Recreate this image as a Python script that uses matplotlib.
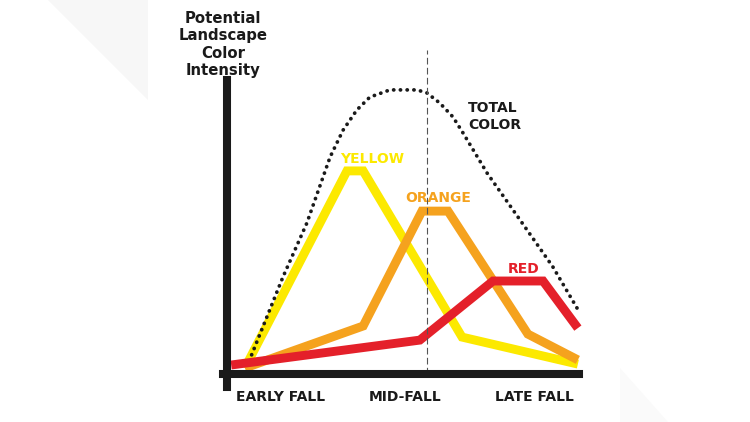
import matplotlib
matplotlib.use("Agg")
import matplotlib.pyplot as plt
from matplotlib.patches import Polygon

# ---- data (time 0..100, intensity 0..100) ----
yellow_x = [4.8, 33.8, 38.4, 66.5, 99.4]
yellow_y = [2.0, 67.7, 67.7, 12.3, 3.3]

orange_x = [4.8, 38.4, 55.1, 62.5, 85.2, 99.4]
orange_y = [2.0, 16.0, 54.3, 54.3, 13.3, 4.7]

red_x = [0.9, 54.5, 75.3, 89.5, 99.4]
red_y = [3.0, 11.3, 31.0, 31.0, 15.3]

total_x = [6.0, 15.6, 22.4, 29.0, 32.7, 36.6, 40.3, 46.0, 53.7, 56.5,
           60.2, 63.9, 66.8, 73.6, 83.0, 92.3, 100.0]
total_y = [4.3, 32.3, 50.3, 72.3, 81.3, 88.0, 92.3, 94.7, 94.7, 93.7,
           90.3, 85.7, 80.3, 67.0, 51.3, 35.7, 20.3]

mid_fall_x = 56.5
x_labels = ["EARLY FALL", "MID-FALL", "LATE FALL"]
x_label_pos = [14.9, 50.4, 87.2]
y_title = "Potential\nLandscape\nColor\nIntensity"

YELLOW = "#FCE900"
ORANGE = "#F5A21E"
RED = "#E4202A"
BLACK = "#1a1a1a"

fig = plt.figure(figsize=(7.5, 4.22), dpi=100)
fig.patch.set_facecolor("white")

# faint background decorations
fig.add_artist(Polygon([[48/750, 1], [148/750, 1], [148/750, 1-100/422]],
                       closed=True, transform=fig.transFigure,
                       facecolor="#f7f7f7", edgecolor="none", zorder=0))
fig.add_artist(Polygon([[620/750, 1-368/422], [620/750, 0], [668/750, 0]],
                       closed=True, transform=fig.transFigure,
                       facecolor="#fafafa", edgecolor="none", zorder=0))

ax = fig.add_axes([0, 0, 1, 1])
ax.set_facecolor("none")
ax.set_xlim(-64.77, 148.30)
ax.set_ylim(-16.0, 124.67)

lw = 6.4
ax.plot(yellow_x, yellow_y, color=YELLOW, lw=lw, solid_joinstyle="miter",
        solid_capstyle="butt", zorder=3)
ax.plot(total_x, total_y, color=BLACK, lw=2.7, linestyle=(0, (0.05, 1.75)),
        dash_capstyle="round", zorder=3.5)
ax.plot(orange_x, orange_y, color=ORANGE, lw=lw, solid_joinstyle="miter",
        solid_capstyle="butt", zorder=4)
ax.plot(red_x, red_y, color=RED, lw=lw, solid_joinstyle="miter",
        solid_capstyle="butt", zorder=5)

# mid-fall dashed marker
ax.plot([mid_fall_x, mid_fall_x], [0, 108], color="#555555", lw=0.8,
        linestyle=(0, (6, 3)), zorder=6)

# axes lines (spines)
for s in ["top", "right"]:
    ax.spines[s].set_visible(False)
ax.spines["left"].set_position(("data", -0.28))
ax.spines["left"].set_bounds(-4.3, 98)
ax.spines["left"].set_linewidth(5.8)
ax.spines["left"].set_color(BLACK)
ax.spines["bottom"].set_position(("data", 0))
ax.spines["bottom"].set_bounds(-1.4, 99.7)
ax.spines["bottom"].set_linewidth(5.8)
ax.spines["bottom"].set_color(BLACK)
ax.spines["left"].set_zorder(7)
ax.spines["bottom"].set_zorder(7)
ax.set_xticks([])
ax.set_yticks([])

font = dict(family="DejaVu Sans", fontweight="bold")
ax.text(-1.4, 124.67 - 11/3, y_title, ha="center", va="top", fontsize=10.7,
        color=BLACK, linespacing=1.2, **font)
ax.text(68.2, 85.8, "TOTAL\nCOLOR", ha="left", va="center", fontsize=10,
        color=BLACK, linespacing=1.25, **font)
ax.text(41.05, 71.7, "YELLOW", ha="center", va="center", fontsize=10,
        color=YELLOW, **font)
ax.text(59.7, 58.7, "ORANGE", ha="center", va="center", fontsize=10,
        color=ORANGE, **font)
ax.text(84.1, 35.0, "RED", ha="center", va="center", fontsize=10,
        color=RED, **font)
for lab, xp in zip(x_labels, x_label_pos):
    ax.text(xp, -7.8, lab, ha="center", va="center", fontsize=10,
            color=BLACK, **font)

fig.savefig("out.png", dpi=100, facecolor="white")
